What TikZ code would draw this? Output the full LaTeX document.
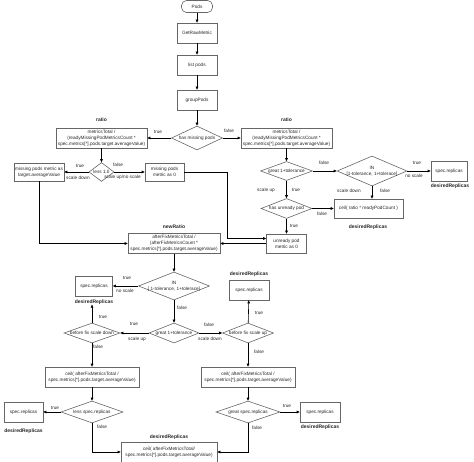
\documentclass[tikz,border=0pt]{standalone}
\usepackage{fontspec}
\setmainfont{Liberation Sans}
\usetikzlibrary{shapes.geometric,arrows.meta}

\begin{document}
\begin{tikzpicture}[x=1pt, y=-1pt, line width=0.6pt, >={Triangle[length=3pt,width=2.6pt]}]
		\tikzset{block/.style = {shape=rectangle, draw=black!60, inner sep=0pt, align=center, text=black!85, font=\fontsize{4.7}{5.8}\selectfont}}
		\tikzset{term/.style = {block, rounded corners=5pt}}
		\tikzset{decision/.style = {shape=diamond, draw=black!60, inner sep=0pt, label={[inner sep=0pt, align=center, text=black!85, font=\fontsize{4.7}{5.8}\selectfont]center:#1}}}
		\tikzset{lbl/.style = {inner sep=0pt, text=black!85, font=\fontsize{4.7}{5.8}\selectfont}}
		\tikzset{title/.style = {inner sep=0pt, text=black!85, font=\fontsize{5}{6}\selectfont\bfseries}}

		\useasboundingbox (0,0) rectangle (474,462);

		\node[term, minimum width=31pt, minimum height=12pt] (pods) at (197,6.5) {Pods};
		\node[block, minimum width=40pt, minimum height=20pt] (raw) at (197,33) {GetRawMetric};
		\node[block, minimum width=40pt, minimum height=20pt] (list) at (197,65) {list pods};
		\node[block, minimum width=40pt, minimum height=20pt] (group) at (197,100) {groupPods};
		\node[decision={has missing pods}, minimum width=51pt, minimum height=24pt] (hasMiss) at (197,138) {};

		\node[title] (ratioLT) at (101.5,120) {ratio};
		\node[block, minimum width=91pt, minimum height=20pt] (ratioL) at (101.5,138) {metricsTotal /\\(readyMissingPodMetricsCount *\\spec.metrics[*].pods.target.averageValue)};
		\node[title] (ratioRT) at (286.5,120) {ratio};
		\node[block, minimum width=91pt, minimum height=20pt] (ratioR) at (286.5,138) {metricsTotal /\\(readyMissingPodMetricsCount *\\spec.metrics[*].pods.target.averageValue)};

		\node[decision={less 1.0}, minimum width=25pt, minimum height=19pt] (less1) at (101.5,172) {};
		\node[block, minimum width=50pt, minimum height=18pt] (missT) at (39,172) {missing pods metric as\\target.averageValue};
		\node[block, minimum width=39pt, minimum height=18pt] (missZ) at (164.5,172) {missing pods\\metric as 0};

		\node[decision={great 1+tolerance}, minimum width=52pt, minimum height=19pt] (great1) at (286.5,171) {};
		\node[decision={IN\\{[}1-tolerance, 1+tolerace{]}}, minimum width=70pt, minimum height=30pt] (in1) at (372,171) {};
		\node[block, minimum width=36pt, minimum height=20pt] (spec1) at (449,171) {spec.replicas};
		\node[title] (dr1) at (450,186) {desiredReplicas};
		\node[block, minimum width=69pt, minimum height=19pt] (ceil1) at (368.5,208.5) {ceil( ratio * readyPodCount )};
		\node[title] (dr2) at (368,227) {desiredReplicas};
		\node[decision={has unready pod}, minimum width=51pt, minimum height=20pt] (hasUn) at (286.5,208.5) {};
		\node[block, minimum width=40pt, minimum height=19pt] (unready) at (286.5,243.5) {unready pod\\metric as 0};

		\node[title] (newRatioT) at (174,227) {newRatio};
		\node[block, minimum width=92pt, minimum height=20pt] (newRatio) at (174,243.5) {afterFixMetricsTotal /\\(afterFixMetricsCount *\\spec.metrics[*].pods.target.averageValue)};
		\node[decision={IN\\{[} 1-tolerance, 1+tolerace{]}}, minimum width=71pt, minimum height=28pt] (in2) at (174,286) {};
		\node[block, minimum width=37pt, minimum height=20pt] (spec2) at (94,286) {spec.replicas};
		\node[title] (dr3) at (94,302) {desiredReplicas};
		\node[decision={great 1+tolerance}, minimum width=50pt, minimum height=20pt] (great2) at (174,333) {};
		\node[decision={before fix scale down}, minimum width=56pt, minimum height=20pt] (befd) at (92,333) {};
		\node[decision={before fix scale up}, minimum width=51pt, minimum height=20pt] (befu) at (248,333) {};
		\node[title] (dr4) at (249,274) {desiredReplicas};
		\node[block, minimum width=40pt, minimum height=20pt] (spec3) at (249,290) {spec.replicas};

		\node[block, minimum width=94pt, minimum height=20pt] (calcL) at (92,377) {ceil( afterFixMetricsTotal /\\spec.metrics[*].pods.target.averageValue)};
		\node[block, minimum width=94pt, minimum height=20pt] (calcR) at (248,377) {ceil( afterFixMetricsTotal /\\spec.metrics[*].pods.target.averageValue)};
		\node[decision={less spec.replicas}, minimum width=62pt, minimum height=22pt] (lessS) at (92,412) {};
		\node[decision={great spec.replicas}, minimum width=64pt, minimum height=22pt] (greatS) at (248,412) {};
		\node[block, minimum width=39pt, minimum height=20pt] (spec4) at (23.5,412) {spec.replicas};
		\node[title] (dr5) at (23.5,431) {desiredReplicas};
		\node[block, minimum width=40pt, minimum height=20pt] (spec5) at (320,412) {spec.replicas};
		\node[title] (dr6) at (320,427) {desiredReplicas};
		\node[title] (dr7) at (169,437) {desiredReplicas};
		\node[block, minimum width=96pt, minimum height=20pt] (final) at (169,452) {ceil( afterFixMetricsTotal/\\spec.metrics[*].pods.target.averageValue)};

		\node[lbl] (t1) at (158,132) {true};
		\node[lbl] (f1) at (229,131) {false};
		\node[lbl] (t2) at (80,166) {true};
		\node[lbl] (s2) at (78,178) {scale down};
		\node[lbl] (f2) at (118,165) {false};
		\node[lbl] (s3) at (122.5,177) {scale up/no scale};
		\node[lbl] (f3) at (324,163) {false};
		\node[lbl] (t4) at (417,163) {true};
		\node[lbl] (s4) at (414,176) {no scale};
		\node[lbl] (s5) at (349,191) {scale down};
		\node[lbl] (f5) at (385,191) {false};
		\node[lbl] (s6) at (266,190) {scale up};
		\node[lbl] (t6) at (296,190) {true};
		\node[lbl] (f7) at (322,214) {false};
		\node[lbl] (t8) at (294,226) {true};
		\node[lbl] (t9) at (127,278) {true};
		\node[lbl] (s9) at (125,291) {no scale};
		\node[lbl] (f10) at (182,308) {false};
		\node[lbl] (t11) at (134,324) {true};
		\node[lbl] (s11) at (137,339) {scale up};
		\node[lbl] (f12) at (209,325) {false};
		\node[lbl] (s12) at (210,339) {scale down};
		\node[lbl] (t13) at (103,317) {true};
		\node[lbl] (t14) at (259,313) {true};
		\node[lbl] (f13) at (98,347) {false};
		\node[lbl] (f14) at (259,352) {false};
		\node[lbl] (t15) at (55,408) {true};
		\node[lbl] (t16) at (287,406) {true};
		\node[lbl] (f15) at (102,427) {false};
		\node[lbl] (f16) at (257,428) {false};

		\draw[->] (pods)--(raw);
		\draw[->] (raw)--(list);
		\draw[->] (list)--(group);
		\draw[->] (group)--(hasMiss);
		\draw[->] (hasMiss.west)--(ratioL.east);
		\draw[->] (hasMiss.east)--(ratioR.west);
		\draw[->] (ratioL)--(less1);
		\draw[->] (less1.west)--(missT.east);
		\draw[->] (less1.east)--(missZ.west);
		\draw[->] (missT.south) |- (newRatio.west);
		\draw[->] (missZ.east) -- ++(43,0) |- ([yshift=5pt]unready.west);
		\draw[->] (unready.west)--(newRatio.east);
		\draw[->] (ratioR)--(great1);
		\draw[->] (great1.east)--(in1.west);
		\draw[->] (in1.east)--(spec1.west);
		\draw[->] (in1.south)--(in1.south |- ceil1.north);
		\draw[->] (great1)--(hasUn);
		\draw[->] (hasUn.east)--(ceil1.west);
		\draw[->] (hasUn)--(unready);
		\draw[->] (newRatio)--(in2);
		\draw[->] (in2.west)--(spec2.east);
		\draw[->] (in2)--(great2);
		\draw[->] (great2.west)--(befd.east);
		\draw[->] (great2.east)--(befu.west);
		\draw[->] (befd.north)--(befd.north |- dr3.south);
		\draw[->] (befu)--(spec3);
		\draw[->] (befd)--(calcL);
		\draw[->] (befu)--(calcR);
		\draw[->] (calcL)--(lessS);
		\draw[->] (calcR)--(greatS);
		\draw[->] (lessS.west)--(spec4.east);
		\draw[->] (greatS.east)--(spec5.west);
		\draw[->] (lessS.south) |- (final.west);
		\draw[->] (greatS.south) |- (final.east);

	\end{tikzpicture}
\end{document}
